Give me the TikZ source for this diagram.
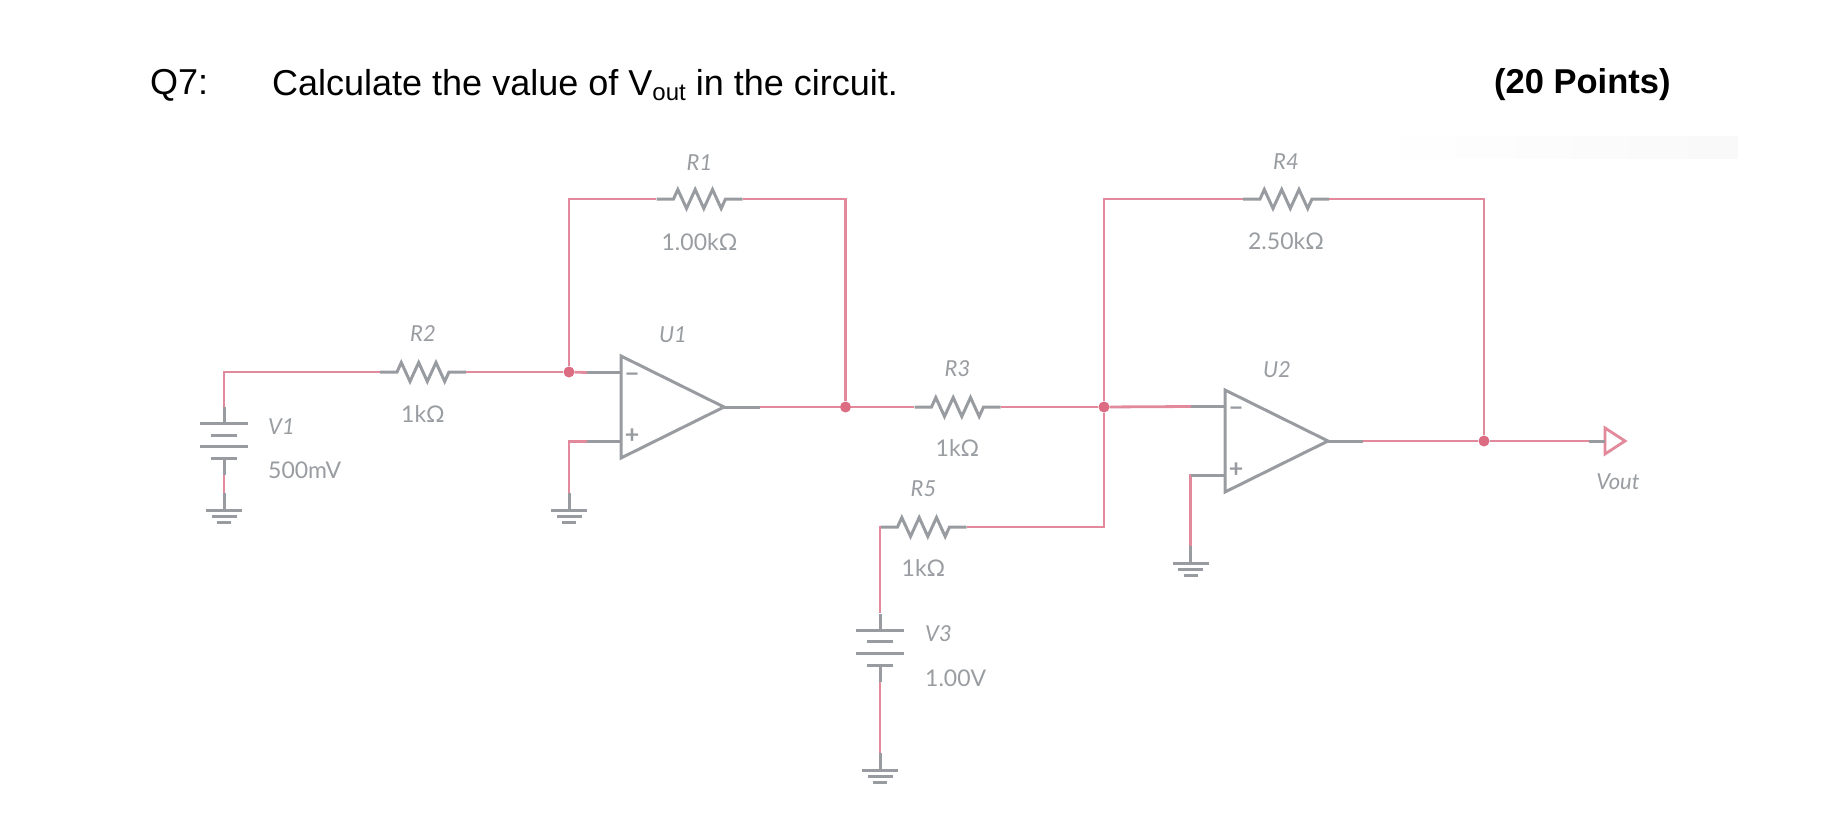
\documentclass[tikz,border=0pt]{standalone}
\usepackage{fontspec}
\setmainfont{Liberation Sans}
\newfontfamily\lato{Lato}
\usetikzlibrary{shapes.geometric}
\definecolor{wirepink}{HTML}{E2899B}
\definecolor{dotpink}{HTML}{DB6C82}
\definecolor{leadgray}{HTML}{989CA1}
\definecolor{labgray}{HTML}{999DA1}

\begin{document}
\begin{tikzpicture}[auto, x=1pt, y=-1pt, node distance=40pt,
    wire/.style={draw=wirepink, line width=2.8pt},
    lead/.style={draw=leadgray, line width=3pt},
    hv/.style={to path={-| (\tikztotarget)}},
    vh/.style={to path={|- (\tikztotarget)}},
    dot node/.style={circle, fill=dotpink, inner sep=0pt, minimum size=11pt},
    res node/.style={inner sep=0pt, minimum width=86pt, minimum height=26pt, path picture={
        \draw[lead, shift={(path picture bounding box.center)}] (-43,0) -- (-26,0) -- (-21.7,-9.5) -- (-13,9.5) -- (-4.3,-9.5) -- (4.3,9.5) -- (13,-9.5) -- (21.7,9.5) -- (26,0) -- (43,0);}},
    batt node/.style={inner sep=0pt, minimum width=50pt, minimum height=68pt, path picture={
        \draw[lead, shift={(path picture bounding box.center)}] (0,-34) -- (0,-17.5) (-24,-17.5) -- (24,-17.5) (-13,-5.8) -- (13,-5.8) (-24,5.8) -- (24,5.8) (-13,17.5) -- (13,17.5) (0,17.5) -- (0,34);}},
    gnd node/.style={inner sep=0pt, minimum width=38pt, minimum height=32pt, path picture={
        \draw[lead, shift={(path picture bounding box.center)}] (0,-16) -- (0,1) (-18,1) -- (18,1) (-12.5,7) -- (12.5,7) (-7,13) -- (7,13);}},
    amp node/.style={draw=leadgray, line width=3pt, shape=isosceles triangle, isosceles triangle stretches, minimum width=102pt, minimum height=103pt, inner sep=0pt, outer sep=0pt, anchor=lower side},
    flag node/.style={draw=wirepink, line width=2.8pt, shape=isosceles triangle, isosceles triangle stretches, minimum width=26pt, minimum height=20pt, inner sep=0pt, outer sep=0pt, anchor=lower side},
    lab node/.style={font=\lato\fontsize{23}{26}\selectfont, text=labgray, inner sep=0pt},
    ref node/.style={font=\lato\itshape\fontsize{22}{26}\selectfont, text=labgray, inner sep=0pt},
    sign node/.style={font=\lato\bfseries\fontsize{25}{26}\selectfont, text=leadgray, inner sep=0pt},
    head node/.style={font=\fontsize{36}{40}\selectfont, text=black, inner sep=0pt, anchor=west}]
    \fill[white] (0,0) rectangle (1842,816);
    \useasboundingbox (0,0) rectangle (1842,816);
    \shade[left color=white, right color=black!2.5, draw=none] (1370,136) rectangle (1738,158);

    % question line
    \node[head node] (q7) at (150,85) {Q7:};
    \node[head node] (title) at (272,85) {Calculate the value of V{\fontsize{24}{24}\selectfont\raisebox{-5pt}{out}} in the circuit.};
    \node[head node, font=\bfseries\fontsize{34.5}{40}\selectfont] (pts) at (1494,85) {(20 Points)};

    % junctions
    \node[dot node] (j1) at (569,372) {};
    \node[dot node] (j2) at (845.5,407) {};
    \node[dot node] (j3) at (1104,407) {};
    \node[dot node] (j4) at (1484,441) {};

    % resistors
    \node[res node] (r2) [left of=j1, node distance=146pt] {};
    \node[res node] (r3) [right of=j2, node distance=112pt] {};
    \node[res node] (r1) at (699.5,199) {};
    \node[res node] (r4) at (1286,199) {};
    \node[res node] (r5) at (923.5,527) {};

    % sources and grounds
    \node[batt node] (v1) at (224,441) {};
    \node[batt node] (v3) at (880,647.5) {};
    \node[gnd node] (g1) [below of=v1, node distance=68pt] {};
    \node[gnd node] (g3) [below of=v3, node distance=121.5pt] {};
    \node[gnd node] (g2) at (569,509) {};
    \node[gnd node] (g4) at (1190.5,562) {};

    % op amps
    \node[amp node] (u1) at (621,407) {};
    \node[amp node] (u2) at (1225,441) {};
    \coordinate (u1m) at ([yshift=34.5pt]u1.lower side);
    \coordinate (u1p) at ([yshift=-34.5pt]u1.lower side);
    \coordinate (u2m) at ([yshift=34.5pt]u2.lower side);
    \coordinate (u2p) at ([yshift=-34.5pt]u2.lower side);
    \coordinate (u1ms) at ([xshift=-34pt]u1m);
    \coordinate (u1ps) at ([xshift=-34pt]u1p);
    \coordinate (u2ms) at ([xshift=-34pt]u2m);
    \coordinate (u2ps) at ([xshift=-34pt]u2p);
    \coordinate (u1o) at ([xshift=36pt]u1.apex);
    \coordinate (u2o) at ([xshift=35pt]u2.apex);

    % output flag
    \node[flag node] (out) at (1605,441) {};
    \coordinate (outs) at ([xshift=-16pt]out.lower side);

    \path[wire]
        (r2.east) edge (j1)
        (r2.west) edge[hv] (v1.north)
        (v1.south) edge (g1.north)
        (j1) edge (u1ms)
             edge[vh] (r1.west)
        (r1.east) edge[hv] (j2)
        (u1ps) edge[hv] (g2.north)
        (u1o) edge (j2)
        (j2) edge (r3.west)
        (r3.east) edge (j3)
        (j3) edge (u2ms)
             edge[vh] (r4.west)
        (r5.east) edge[hv] (j3)
        (r5.west) edge[hv] (v3.north)
        (v3.south) edge (g3.north)
        (r4.east) edge[hv] (j4)
        (u2ps) edge[hv] (g4.north)
        (u2o) edge (j4)
        (j4) edge (outs);
    \path[lead]
        (u1ms) edge (u1m)
        (u1ps) edge (u1p)
        (u2ms) edge (u2m)
        (u2ps) edge (u2p)
        (u1.apex) edge (u1o)
        (u2.apex) edge (u2o)
        (outs) edge (out.lower side);

    % op amp signs
    \node[sign node] (u1minus) at ([xshift=11pt,yshift=-5pt]u1m) {\textminus};
    \node[sign node] (u1plus) at ([xshift=11pt,yshift=5pt]u1p) {+};
    \node[sign node] (u2minus) at ([xshift=11pt,yshift=-5pt]u2m) {\textminus};
    \node[sign node] (u2plus) at ([xshift=11pt,yshift=5pt]u2p) {+};

    % labels
    \node[ref node] (r1n) [above of=r1, node distance=36pt] {R1};
    \node[lab node] (r1v) [below of=r1, node distance=43pt] {1.00kΩ};
    \node[ref node] (r2n) [above of=r2, node distance=38pt] {R2};
    \node[lab node] (r2v) [below of=r2, node distance=42pt] {1kΩ};
    \node[ref node] (r3n) [above of=r3, node distance=38pt] {R3};
    \node[lab node] (r3v) [below of=r3, node distance=41pt] {1kΩ};
    \node[ref node] (r4n) [above of=r4, node distance=37pt] {R4};
    \node[lab node] (r4v) [below of=r4, node distance=42pt] {2.50kΩ};
    \node[ref node] (r5n) [above of=r5, node distance=38pt] {R5};
    \node[lab node] (r5v) [below of=r5, node distance=41pt] {1kΩ};
    \node[ref node, anchor=west] (v1n) at (268,427) {V1};
    \node[lab node, anchor=west] (v1v) at (268,470) {500mV};
    \node[ref node, anchor=west] (v3n) at (925,634) {V3};
    \node[lab node, anchor=west] (v3v) at (925,678) {1.00V};
    \node[ref node] (u1n) at (673,335) {U1};
    \node[ref node] (u2n) at (1277,370) {U2};
    \node[ref node] (outn) at (1618,482) {Vout};
\end{tikzpicture}
\end{document}
